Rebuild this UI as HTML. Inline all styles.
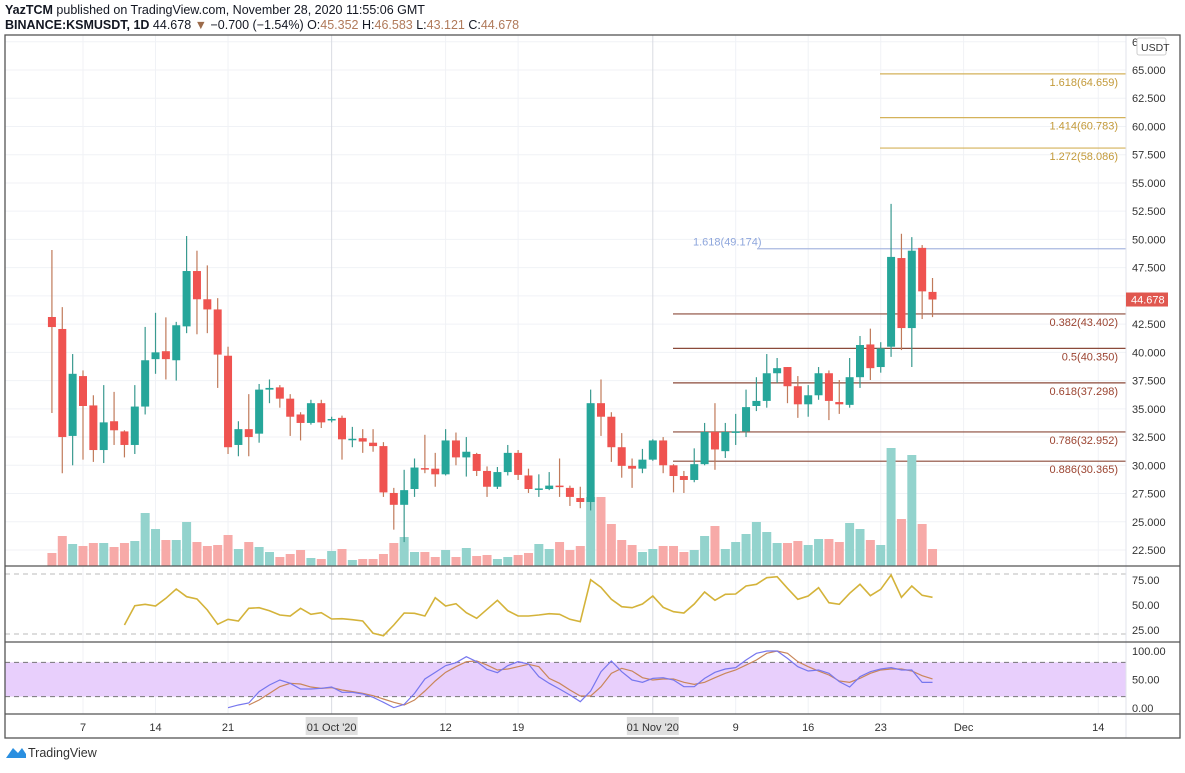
<!DOCTYPE html>
<html><head><meta charset="utf-8"><style>
body{margin:0;background:#fff;width:1185px;height:768px;overflow:hidden;font-family:"Liberation Sans",sans-serif}
svg text{font-family:"Liberation Sans",sans-serif}
</style></head><body>
<svg id="c" width="1185" height="768">
<text x="5" y="14" font-size="12.5" fill="#131722"><tspan font-weight="bold">YazTCM</tspan> published on TradingView.com, November 28, 2020 11:55:06 GMT</text>
<text x="5" y="29" font-size="12.5" fill="#131722"><tspan font-weight="bold">BINANCE:KSMUSDT, 1D</tspan> 44.678 <tspan fill="#9c6b4a">▼</tspan> −0.700 (−1.54%) O:<tspan fill="#b07a5a">45.352</tspan> H:<tspan fill="#b07a5a">46.583</tspan> L:<tspan fill="#b07a5a">43.121</tspan> C:<tspan fill="#b07a5a">44.678</tspan></text>
<g id="grid"></g>
<g id="fib"></g>
<g id="vol"></g>
<g id="candles"></g>
<g id="rsi"></g>
<g id="stoch"></g>
<g id="axes"></g>
<rect x="5" y="35" width="1175" height="703" fill="none" stroke="#555" stroke-width="1.3"/>
<g><path d="M6 758 L13 748 L18 753 L22 748 L26 754 L26 758 Z" fill="#2a8fe0"/><text x="28" y="757" font-size="12.5" fill="#333">TradingView</text></g>
</svg>
<script>
const opens=[43.13,42.07,32.6,37.9,35.3,31.35,33.9,33.0,31.8,35.2,39.4,40.1,39.3,42.3,47.2,44.7,43.8,39.7,31.8,33.2,32.8,36.7,36.9,35.9,34.5,33.75,35.5,34.0,34.2,32.3,32.4,32.0,31.7,27.55,26.5,27.9,29.75,29.7,29.2,32.2,30.7,31.0,29.5,28.1,29.4,31.1,29.1,27.9,27.9,28.2,28.0,27.1,26.75,35.5,34.3,31.6,29.95,29.7,30.5,32.2,30.0,29.05,28.7,30.1,32.95,31.25,32.9,33.0,35.25,35.7,38.15,38.7,37.0,35.4,36.2,38.15,35.6,35.35,37.8,40.7,38.7,40.5,48.35,42.15,49.25,45.352];
const highs=[49.06,44.0,39.85,38.4,36.2,37.1,36.5,33.1,37.1,42.25,43.5,43.1,42.7,50.3,49.0,47.7,44.8,40.5,33.9,36.3,37.2,37.6,37.1,36.3,34.7,35.8,35.8,34.3,34.4,33.4,33.2,33.2,32.05,28.0,29.6,30.6,32.7,31.1,33.2,32.9,32.5,31.1,29.9,29.85,31.8,31.35,29.7,29.2,29.4,30.6,28.2,28.1,36.7,37.6,34.7,32.85,30.6,31.45,32.3,32.5,30.1,29.5,31.5,33.75,35.5,33.75,34.55,36.7,37.8,39.85,39.5,38.7,37.9,37.1,38.7,38.4,37.55,39.5,41.45,42.1,40.9,53.15,50.5,50.2,49.5,46.583];
const lows=[34.63,29.3,30.0,30.5,30.3,30.2,31.8,30.7,31.0,34.5,38.1,37.6,37.5,41.7,41.6,41.7,36.85,31.0,30.8,30.8,32.0,35.5,35.1,32.6,32.2,33.6,33.3,33.8,30.5,31.6,31.1,31.2,27.2,24.3,23.2,27.2,29.3,28.1,29.1,30.0,29.0,29.05,27.2,27.9,29.1,28.7,27.55,27.2,27.8,27.2,26.4,26.2,26.0,32.6,30.3,28.9,28.0,29.3,30.4,29.3,27.6,27.55,28.5,30.0,29.6,30.65,31.8,32.5,34.8,35.1,37.3,35.5,34.2,34.3,35.8,34.0,34.55,35.1,36.85,37.55,38.2,39.6,40.2,38.7,42.95,43.121];
const closes=[42.24,32.5,38.1,35.25,31.35,33.8,33.1,31.8,35.2,39.3,40.0,39.4,42.4,47.2,44.7,43.8,39.8,31.6,33.2,32.5,36.7,36.85,35.9,34.3,33.75,35.5,33.8,34.1,32.3,32.35,32.1,31.7,27.6,26.5,27.8,29.8,29.7,29.2,32.2,30.7,31.2,29.5,28.1,29.4,31.1,29.15,27.9,27.95,28.2,28.1,27.2,26.75,35.5,34.3,31.6,29.95,29.7,30.5,32.2,30.0,29.05,28.7,30.1,32.95,31.4,32.95,33.0,35.15,35.7,38.15,38.6,37.0,35.4,36.2,38.15,35.7,35.4,37.8,40.65,38.6,40.35,48.45,42.15,49.0,45.4,44.678];
const volumes=[13,30,22,20,23,23,19,23,25,53,37,26,26,44,24,20,21,31,17,24,19,14,9,12,16,8,7,15,17,6,7,7,12,23,29,14,14,9,16,9,18,10,11,7,9,11,13,22,17,24,16,20,69,69,42,26,21,14,17,20,20,14,16,30,40,17,24,32,44,34,23,23,25,21,27,27,24,43,37,26,21,118,47,111,42,17];
const firstDay=-3; // days relative to Sep 7, 2020
const rsiStart=4;
const rsiValues=[30,49.3,50.7,49,56.7,66,58.3,56,45,30.7,35.7,34,46.7,47.3,44.3,40,39,46.7,40.7,42.3,36,36.3,35.3,34,21.7,19.3,30,42,41.7,39,57.3,49,51.3,42.3,36.7,45.7,54.7,44.3,39,39,40,41.3,40.7,35.7,33.3,75.3,67.7,55.7,48.3,47.3,51,59,47.7,43.3,42,51,63,54.7,60.7,61,69,70.7,77.3,78.3,66.7,55.7,59,67.3,52.3,50.7,61.7,70.7,59.3,65.7,80,57.7,69,59.7,57.7];
const kStart=14;
const kValues=[0.6,5.3,8.8,28.7,40.4,49.1,43.3,33.3,33.3,34.5,36.8,27.5,27.5,24.6,18.7,10,0.6,6.4,25.7,50.9,62.6,74.3,79.5,90,81.3,67.8,62,74.3,81.3,77.2,55,43.3,33.3,22.8,11.1,29.8,63.7,82.5,63.7,49.1,45,52,53.2,49.1,37.4,37.4,52,62.6,68.4,70.8,84.2,95.9,100,100,87.1,72.5,64.9,66.7,60.8,46.2,36.8,55,63.7,68.4,70.8,66.7,66.7,45,45];
const dStart=16;
const dValues=[5.3,14,25.7,37.4,43.3,42.1,36.8,34.5,35.7,31.6,28.7,25.7,21.6,15.8,10,5.3,14,29.8,47.4,62.6,72.5,81.3,82.5,75.4,66.7,68.4,72.5,76.6,72.5,52,43.3,31.6,21.1,21.1,37.4,60.8,69.6,64.9,53.2,49.1,50.9,50.9,45,41.5,45,53.2,60.8,66.7,75.4,84.2,95.9,100,95.9,81.3,72.5,64.9,57.9,47.4,45,52,60.8,66.7,68.4,68.4,64.9,56.7,50.9];
const priceTicks=[22.5,25,27.5,30,32.5,35,37.5,40,42.5,45,47.5,50,52.5,55,57.5,60,62.5,65,67.5];
const dateTickDays=[0,7,14,24,35,42,55,63,70,77,85,98];
const dateTickLabels=["7","14","21","01 Oct '20","12","19","01 Nov '20","9","16","23","Dec","14"];
const fibLevels=[64.659,60.783,58.086,49.174,43.402,40.35,37.298,32.952,30.365];
const fibLabels=["1.618(64.659)","1.414(60.783)","1.272(58.086)","1.618(49.174)","0.382(43.402)","0.5(40.350)","0.618(37.298)","0.786(32.952)","0.886(30.365)"];
const lastPrice=44.678;

const NS="http://www.w3.org/2000/svg";
const X=d=>83+d*10.36;
const Y=p=>70+(65-p)*11.294;
const RY=v=>655-v;
const SY=v=>708-v*0.57;
const VY=v=>566-v;
const UP="#26a69a",DN="#ef5350";
function mk(parent,tag,attrs){const e=document.createElementNS(NS,tag);for(const k in attrs)e.setAttribute(k,attrs[k]);document.getElementById(parent).appendChild(e);return e;}

priceTicks.forEach(p=>{const y=Y(p);if(y<38)return;
 const l=mk('grid','line',{x1:5,x2:1126,y1:y,y2:y,stroke:'#f0f2f6'});
 
 });
dateTickDays.forEach((d,i)=>{const x=X(d);const strong=dateTickLabels[i].indexOf("'")>0;
 const l=mk('grid','line',{x1:x,x2:x,y1:35,y2:714,stroke:strong?'#d8dbe2':'#f0f2f6'});
 
 });
[574,634].forEach(y=>{const l=mk('grid','line',{x1:5,x2:1126,y1:y,y2:y,stroke:'#bbb','stroke-dasharray':'5,4'});
 
 });
const band=mk('grid','rect',{x:5,y:SY(80),width:1121,height:SY(20)-SY(80),fill:'#e8cffc'});


[80,20].forEach(v=>{const l=mk('grid','line',{x1:5,x2:1126,y1:SY(v),y2:SY(v),stroke:'#777','stroke-dasharray':'5,4'});
 
 });

fibLevels.forEach((p,i)=>{const y=Y(p);let x1,col;
 if(i<3){x1=880;col='#d4b25a';}else if(i==3){x1=757;col='#aab8e0';}else{x1=673;col='#8b4a3a';}
 const l=mk('fib','line',{x1:x1,x2:1126,y1:y,y2:y,stroke:col,'stroke-width':1.2});
 
 
 let t;
 if(i==3){t=mk('fib','text',{x:693,y:y-3,'font-size':11,fill:'#8ea6dc'});}
 else{t=mk('fib','text',{x:1118,y:y+12,'font-size':11,fill:i<3?'#c39a3a':'#9b4431','text-anchor':'end'});}
 t.textContent=fibLabels[i];
 
 });

opens.forEach((o,i)=>{const d=firstDay+i,x=X(d),c=closes[i],up=c>=o;
 const vb=mk('vol','rect',{x:x-4.5,y:VY(volumes[i]),width:9,height:566-VY(volumes[i]),fill:up?'#93d3cd':'#f7aaa8'});
 
 
 const w=mk('candles','line',{x1:x,x2:x,y1:Y(highs[i]),y2:Y(lows[i]),stroke:up?'#3a9a90':'#c07a5a','stroke-width':1.2});
 
 
 const top=Y(Math.max(o,c)),bot=Y(Math.min(o,c));
 const b=mk('candles','rect',{x:x-4,y:top,width:8,height:Math.max(1.5,bot-top),fill:up?UP:DN});
 
 });

let pts=rsiValues.map((v,i)=>X(rsiStart+i)+','+RY(v)).join(' ');
const rl=mk('rsi','polyline',{points:pts,fill:'none',stroke:'#d4b33a','stroke-width':1.6});


pts=dValues.map((v,i)=>X(dStart+i)+','+SY(v)).join(' ');
const dl=mk('stoch','polyline',{points:pts,fill:'none',stroke:'#c9865a','stroke-width':1.2});


pts=kValues.map((v,i)=>X(kStart+i)+','+SY(v)).join(' ');
const kl=mk('stoch','polyline',{points:pts,fill:'none',stroke:'#7777ee','stroke-width':1.2});



const ad=mk('axes','line',{x1:1126,x2:1126,y1:35,y2:738,stroke:'#e0e3eb'});


[566,642,714].forEach(y=>{const l=mk('axes','line',{x1:5,x2:1180,y1:y,y2:y,stroke:'#555','stroke-width':1.3});
 
 });
priceTicks.forEach(p=>{const y=Y(p);
 const t=mk('axes','text',{x:1132,y:y+4,'font-size':11,fill:'#333'});
 t.textContent=p.toFixed(3);
 
 });
const ub=mk('axes','rect',{x:1137,y:38,width:29,height:17,rx:2,fill:'#fff',stroke:'#ccc'});


const ut=mk('axes','text',{x:1141,y:51,'font-size':10.5,fill:'#333'});ut.textContent='USDT';


const pb=mk('axes','rect',{x:1126,y:Y(lastPrice)-7,width:42,height:14,fill:'#e0574f'});


const pt=mk('axes','text',{x:1131,y:Y(lastPrice)+4,'font-size':11,fill:'#fff'});pt.textContent=lastPrice.toFixed(3);


[75,50,25].forEach(v=>{const t=mk('axes','text',{x:1132,y:RY(v)+4,'font-size':11,fill:'#333'});t.textContent=v.toFixed(2);
 
 });
[100,50,0].forEach(v=>{const t=mk('axes','text',{x:1132,y:SY(v)+4,'font-size':11,fill:'#333'});t.textContent=v.toFixed(2);
 
 });
dateTickDays.forEach((d,i)=>{const x=X(d),lab=dateTickLabels[i];
 if(lab.indexOf("'")>0){const r=mk('axes','rect',{x:x-26,y:717,width:52,height:18,fill:'#e0e0e0'});
  
  }
 const t=mk('axes','text',{x:x,y:731,'font-size':11,fill:'#333','text-anchor':'middle'});t.textContent=lab;
 
 });
</script>
</body></html>
